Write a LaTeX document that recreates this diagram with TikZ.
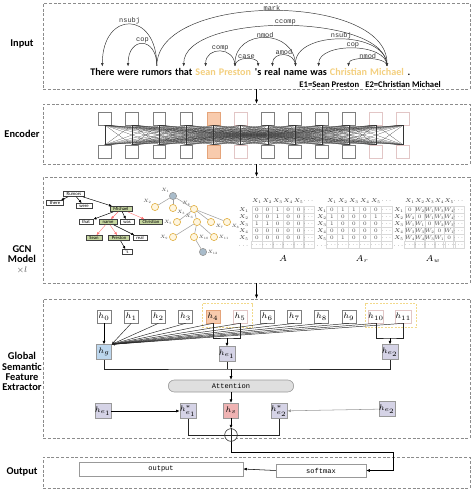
\documentclass[tikz,border=0pt]{standalone}
\usepackage{fix-cm}
\usepackage{amsmath,amssymb}
\usepackage{fontspec}
\usepackage{tikz}
\usepackage{xcolor}
\usetikzlibrary{positioning,arrows.meta,calc}

\newfontfamily\labfont{Carlito}
\newfontfamily\codefont{Liberation Mono}

\definecolor{entity}{HTML}{F3CF7E}
\definecolor{panelgray}{HTML}{8C8C8C}
\definecolor{encorange}{HTML}{F8CBAD}
\definecolor{encedge}{HTML}{E5A47A}
\definecolor{fadepink}{HTML}{E2C6C6}
\definecolor{boxgray}{HTML}{7F7F7F}
\definecolor{treegreen}{HTML}{C6D6A0}
\definecolor{gcngold}{HTML}{E2B44C}
\definecolor{gcnfill}{HTML}{FFF6E0}
\definecolor{gcnblue}{HTML}{A9BCCB}
\definecolor{hgblue}{HTML}{BDD7EE}
\definecolor{entlav}{HTML}{D5D3E6}
\definecolor{hsred}{HTML}{EFB3B3}
\definecolor{spanyellow}{HTML}{F2D98A}
\definecolor{gridgray}{HTML}{D9D9D9}

\tikzset{
  panel/.style={draw=panelgray, dash pattern=on 2.2pt off 1.4pt, line width=0.6pt, inner sep=0pt},
  panelarrow/.style={-{Latex[length=3pt,width=2.4pt]}, line width=0.4pt},
  sidelabel/.style={font=\labfont\bfseries\fontsize{7.8}{7.6}\selectfont, align=center, inner sep=0pt},
  word/.style={inner sep=0pt, font=\labfont\bfseries\fontsize{7.6}{9}\selectfont, text height=6pt, text depth=1.6pt},
  entity/.style={text=entity},
  eline/.style={inner sep=0pt, font=\labfont\bfseries\fontsize{6.5}{7}\selectfont},
  deparc/.style={-{Latex[length=2.6pt,width=2pt]}, line width=0.35pt, draw=black!80, shorten <=1pt, shorten >=0.5pt},
  deplabel/.style={pos=0.5, above, inner sep=0.4pt, font=\codefont\fontsize{5.2}{6}\selectfont, text=black!80},
  encbox/.style={minimum size=9.6pt, inner sep=0pt, line width=0.45pt},
  encline/.style={line width=0.12pt, draw=black!80},
  treebox/.style={draw=black!75, line width=0.3pt, inner xsep=2.5pt, inner ysep=0.3pt, minimum height=4pt, font=\labfont\fontsize{3.5}{3.6}\selectfont},
  treeent/.style={treebox, fill=treegreen},
  treearrow/.style={-{Latex[length=2.3pt,width=2pt]}, line width=0.35pt},
  treered/.style={treearrow, draw=red!55, line width=0.3pt},
  gnode/.style={circle, draw=gcngold, fill=gcnfill, line width=0.5pt, minimum size=5.4pt, inner sep=0pt},
  gend/.style={gnode, draw=gray!80, fill=gcnblue},
  gedge/.style={draw=gray!75, line width=0.4pt},
  glab/.style={font=\fontsize{3.5}{4}\selectfont, inner sep=0.4pt, text=black!75},
  mathead/.style={font=\fontsize{4.2}{4.5}\selectfont, inner sep=0pt, text=black!80},
  cell/.style={draw=gridgray, line width=0.25pt, minimum height=5.25pt, inner sep=0pt, font=\fontsize{4}{4.5}\selectfont, text=black!75},
  matname/.style={font=\fontsize{6.5}{7}\selectfont, inner sep=0pt},
  hbox/.style={draw, line width=0.45pt, minimum width=10.5pt, minimum height=9.8pt, inner sep=0pt, font=\fontsize{6}{7}\selectfont},
  entbox/.style={hbox, fill=entlav, draw=gray!80, minimum width=11pt, minimum height=11pt},
  spanbox/.style={draw=spanyellow, dash pattern=on 1.5pt off 1pt, line width=0.5pt},
  harrow/.style={-{Latex[length=2.6pt,width=2.2pt]}, line width=0.4pt},
  hline/.style={line width=0.35pt, draw=black!85},
  codebox/.style={draw=gray!80, line width=0.45pt, inner sep=0pt, font=\codefont\fontsize{5.3}{6}\selectfont},
}

\begin{document}
\begin{tikzpicture}[x=0.75pt,y=-0.75pt]
\useasboundingbox (0,0) rectangle (474,491);

% panels
\node[panel, minimum width=320.25pt, minimum height=64.5pt] (pInput) at (256.5,46) {};
\node[panel, minimum width=320.25pt, minimum height=45pt] (pEnc) at (256.5,134) {};
\node[panel, minimum width=320.25pt, minimum height=79.5pt] (pGcn) at (256.5,230) {};
\node[panel, minimum width=320.25pt, minimum height=104.25pt] (pGsfe) at (256.5,368.5) {};
\node[panel, minimum width=320.25pt, minimum height=23.25pt] (pOut) at (256.5,472.5) {};
\draw[panelarrow] (pInput.south) -- (pEnc.north);
\draw[panelarrow] (pEnc.south) -- (pGcn.north);
\draw[panelarrow] (pGcn.south) -- (pGsfe.north);

% side labels
\node[sidelabel] (lInput) at (22,44) {Input};
\node[sidelabel] (lEnc) at (22,134) {Encoder};
\node[sidelabel] (lGcn) at (22,254) {GCN\\Model};
\node[inner sep=0pt, font=\fontsize{6}{7}\selectfont, text=black!70] (lLayer) at (22,270) {$\times l$};
\node[sidelabel] (lGsfe) at (22,371.5) {Global\\Semantic\\Feature\\Extractor};
\node[sidelabel] (lOut) at (22,472) {Output};

% input sentence
\node[word, anchor=base west] (wThere) at (90,75.5) {There};
\node[word, right=1.9pt of wThere] (wWere) {were};
\node[word, right=1.9pt of wWere] (wRumors) {rumors};
\node[word, right=1.9pt of wRumors] (wThat) {that};
\node[word, entity, right=1.9pt of wThat] (wSean) {Sean};
\node[word, entity, right=1.9pt of wSean] (wPreston) {Preston};
\node[word, right=2.5pt of wPreston] (wPoss) {'s};
\node[word, right=1.9pt of wPoss] (wReal) {real};
\node[word, right=1.9pt of wReal] (wName) {name};
\node[word, right=1.9pt of wName] (wWas) {was};
\node[word, entity, right=1.9pt of wWas] (wChristian) {Christian};
\node[word, entity, right=1.9pt of wChristian] (wMichael) {Michael};
\node[word, right=2.5pt of wMichael] (wDot) {.};
\node[eline, anchor=east] (eLine) at (441,84) {E1=Sean Preston\hspace{0.7em}E2=Christian Michael};

% dependency arcs
\draw[deparc] (wRumors.north) .. controls +(0,-57) and +(0,-57) .. (wThere.north) node[deplabel] {nsubj};
\draw[deparc] (wRumors.north) .. controls +(0,-31) and +(0,-31) .. (wWere.north) node[deplabel] {cop};
\draw[deparc] (wRumors.north) .. controls +(0,-75) and +(0,-75) .. (wMichael.north) node[deplabel] {mark};
\draw[deparc] (wMichael.north) .. controls +(0,-55) and +(0,-55) .. (wThat.north) node[deplabel] {ccomp};
\draw[deparc] (wPreston.north) .. controls +(0,-21) and +(0,-21) .. (wSean.north) node[deplabel] {comp};
\draw[deparc] (wPreston.north) .. controls +(0,-11) and +(0,-11) .. (wPoss.north) node[deplabel] {case};
\draw[deparc] (wName.north) .. controls +(0,-39) and +(0,-39) .. (wPreston.north) node[deplabel] {nmod};
\draw[deparc] (wName.north) .. controls +(0,-16) and +(0,-16) .. (wReal.north) node[deplabel] {amod};
\draw[deparc] (wMichael.north) .. controls +(0,-37) and +(0,-37) .. (wName.north) node[deplabel] {nsubj};
\draw[deparc] (wMichael.north) .. controls +(0,-25) and +(0,-25) .. (wWas.north) node[deplabel] {cop};
\draw[deparc] (wMichael.north) .. controls +(0,-11) and +(0,-11) .. (wChristian.north) node[deplabel] {nmod};

% encoder
\foreach \i/\fc/\dc in {0/white/boxgray,1/white/boxgray,2/white/boxgray,3/white/boxgray,4/encorange/encedge,5/white/fadepink,6/white/boxgray,7/white/boxgray,8/white/boxgray,9/white/boxgray,10/white/fadepink,11/white/fadepink} {
  \node[encbox, fill=\fc, draw=\dc] (t\i) at ({105+27.1*\i},118.5) {};
  \node[encbox, fill=\fc, draw=\dc] (b\i) at ({105+27.1*\i},151.5) {};
}
\foreach \i in {0,...,11}
  \foreach \j in {0,...,11}
    \draw[encline] (b\i.north) -- (t\j.south);

% dependency tree
\node[treebox] (tRumors) at (74,194) {Rumors};
\node[treebox] (tThere) at (55,203) {there};
\node[treebox] (tWere) at (84,206) {were};
\node[treeent] (tMichael) at (121,209) {Michael};
\node[treebox] (tThat) at (86,222) {that};
\node[treeent] (tName) at (108,222) {name};
\node[treebox] (tWas) at (127,222) {was};
\node[treeent] (tChristian) at (151,222) {Christian};
\node[treeent] (tSean) at (94,238) {Sean};
\node[treeent] (tPreston) at (119,238) {Preston};
\node[treebox] (tReal) at (140,238) {real};
\node[treebox] (tPoss) at (127,252) {'s};
\draw[treearrow] (tRumors) -- (tThere);
\draw[treearrow] (tRumors) -- (tWere);
\draw[treearrow] (tRumors) -- (tMichael);
\draw[treearrow] (tMichael) -- (tThat);
\draw[treered] (tMichael) -- (tName);
\draw[treearrow] (tMichael) -- (tWas);
\draw[treered] (tMichael) -- (tChristian);
\draw[treered] (tName) -- (tSean);
\draw[treered] (tName) -- (tPreston);
\draw[treearrow] (tName) -- (tReal);
\draw[treearrow] (tPreston) -- (tPoss);

% graph
\node[gend, label={[glab]135:$X_1$}] (g1) at (173,196) {};
\node[gnode, label={[glab]135:$X_2$}] (g2) at (155,207) {};
\node[gnode, label={[glab]-30:$X_3$}] (g3) at (173,208) {};
\node[gnode, label={[glab]135:$X_4$}] (g4) at (194,209) {};
\node[gnode, label={[glab]180:$X_5$}] (g5) at (177,222) {};
\node[gnode, label={[glab]135:$X_6$}] (g6) at (197,222) {};
\node[gnode, label={[glab]-20:$X_7$}] (g7) at (211,222) {};
\node[gnode, label={[glab]-20:$X_8$}] (g8) at (227,222) {};
\node[gnode, label={[glab]180:$X_9$}] (g9) at (173,237) {};
\node[gnode, label={[glab]0:$X_{10}$}] (g10) at (194,237) {};
\node[gnode, label={[glab]0:$X_{11}$}] (g11) at (214,237) {};
\node[gend, label={[glab]0:$X_{12}$}] (g12) at (203,252) {};
\foreach \a/\b in {g1/g2,g1/g3,g1/g4,g4/g5,g4/g6,g4/g7,g4/g8,g6/g9,g6/g10,g6/g11,g10/g12}
  \draw[gedge] (\a) -- (\b);

% matrix A
\foreach \k in {1,...,5} {
  \node[mathead] (aC\k) at ({257+10.4*(\k-1)},201) {$X_{\k}$};
  \node[mathead] (aR\k) at (244,{203+7*\k}) {$X_{\k}$};
}
\node[mathead] (aC6) at (309,201) {$\cdots$};
\node[mathead] (aR6) at (244,246) {$\cdots$};
\foreach \y/\row [count=\r] in {210/{0,0,1,0,0,\cdots}, 217/{0,0,1,0,0,\cdots}, 224/{1,1,0,0,0,\cdots}, 231/{0,0,0,0,0,\cdots}, 238/{0,0,0,0,0,\cdots}, 245/{\cdots,\cdots,\cdots,\cdots,\cdots,\cdots}}
  \foreach \v [count=\k] in \row
    \node[cell, minimum width=7.8pt] (a\r-\k) at ({257+10.4*(\k-1)},\y) {$\v$};
\node[matname] (mA) at (283,259) {$A$};

% matrix A_r
\foreach \k in {1,...,5} {
  \node[mathead] (rC\k) at ({332+11*(\k-1)},201) {$X_{\k}$};
  \node[mathead] (rR\k) at (322,{203+7*\k}) {$X_{\k}$};
}
\node[mathead] (rC6) at (387,201) {$\cdots$};
\node[mathead] (rR6) at (322,246) {$\cdots$};
\foreach \y/\row [count=\r] in {210/{0,1,1,0,0,\cdots}, 217/{1,0,0,0,1,\cdots}, 224/{1,0,0,0,0,\cdots}, 231/{0,0,0,0,0,\cdots}, 238/{0,1,0,0,0,\cdots}, 245/{\cdots,\cdots,\cdots,\cdots,\cdots,\cdots}}
  \foreach \v [count=\k] in \row
    \node[cell, minimum width=8.25pt] (r\r-\k) at ({332+11*(\k-1)},\y) {$\v$};
\node[matname] (mAr) at (362,259) {$A_r$};

% matrix A_w
\foreach \k in {1,...,5} {
  \node[mathead] (wC\k) at ({410+9.8*(\k-1)},201) {$X_{\k}$};
  \node[mathead] (wR\k) at (399,{203+7*\k}) {$X_{\k}$};
}
\node[mathead] (wC6) at (459,201) {$\cdots$};
\node[mathead] (wR6) at (399,246) {$\cdots$};
\foreach \y/\row [count=\r] in {210/{0,W_2,W_1,W_3,W_4,\cdots}, 217/{W_2,0,W_1,W_3,W_4,\cdots}, 224/{W_1,W_1,0,W_2,W_3,\cdots}, 231/{W_3,W_3,W_2,0,W_1,\cdots}, 238/{W_4,W_4,W_3,W_1,0,\cdots}, 245/{\cdots,\cdots,\cdots,\cdots,\cdots,\cdots}}
  \foreach \v [count=\k] in \row
    \node[cell, minimum width=7.35pt] (w\r-\k) at ({410+9.8*(\k-1)},\y) {$\v$};
\node[matname] (mAw) at (433,259) {$A_w$};

% global semantic feature extractor
\foreach \i/\fc/\dc in {0/white/boxgray,1/white/boxgray,2/white/boxgray,3/white/boxgray,4/encorange/encedge,5/white/fadepink,6/white/boxgray,7/white/boxgray,8/white/boxgray,9/white/boxgray,10/white/fadepink,11/white/fadepink}
  \node[hbox, fill=\fc, draw=\dc] (h\i) at ({104+27.2*\i},316.5) {$h_{\i}$};
\draw[spanbox] ($(h4.north west)+(-3,-6)$) rectangle ($(h5.south east)+(5,4)$);
\draw[spanbox] ($(h10.north west)+(-3,-6)$) rectangle ($(h11.south east)+(5,4)$);
\node[hbox, fill=hgblue, draw=gray!80, minimum width=11pt, minimum height=11pt] (hg) at (104,352) {$h_g$};
\node[entbox] (he1) at (227,354) {$h_{e_1}$};
\node[entbox] (he2) at (390,352) {$h_{e_2}$};
\node[codebox, fill=gray!25, rounded corners=4.5pt, minimum width=94pt, minimum height=9pt] (att) at (231,386) {Attention};
\node[entbox] (he1l) at (103,411) {$h_{e_1}$};
\node[entbox] (he1s) at (188,411) {$h_{e_1}^{*}$};
\node[entbox, fill=hsred] (hs) at (231,410.5) {$h_s$};
\node[entbox] (he2s) at (279,411) {$h_{e_2}^{*}$};
\node[entbox] (he2r) at (387,409) {$h_{e_2}$};
\node[circle, draw=black!80, fill=white, line width=0.45pt, minimum size=9.5pt, inner sep=0pt] (plus) at (231,435) {};
\draw[hline] (plus.north) -- (plus.south) (plus.west) -- (plus.east);

\draw[harrow] (h0.south) -- (hg.north);
\foreach \i in {1,...,11}
  \draw[hline, -{Latex[length=2.2pt,width=1.8pt]}] (h\i.south) -- (hg.north east);
\coordinate (sp1) at (227,338);
\coordinate (sp2) at (390,338);
\draw[hline] (h4.south) |- (sp1) -| (h5.south);
\draw[hline] (h10.south) |- (sp2) -| (h11.south);
\draw[harrow] (sp1) -- (he1.north);
\draw[harrow] (sp2) -- (he2.north);
\coordinate (jn) at (231,369);
\draw[hline] (hg.south) |- (jn) -| (he2.south);
\draw[hline] (he1.south) -- (he1.south |- jn);
\draw[harrow] (jn) -- (att.north);
\draw[harrow] (att) -- (hs);
\draw[harrow] (he1l) -- (he1s);
\draw[harrow, draw=gray!80] (he2r) -- (he2s);
\draw[harrow] (hs) -- (plus);
\draw[hline] (he1s.south) |- (plus.west);
\draw[hline] (he2s.south) |- (plus.east);

% output
\node[codebox, minimum width=123pt, minimum height=10.5pt] (outbox) at (161,469) {output};
\node[codebox, minimum width=67.5pt, minimum height=9.75pt] (soft) at (321,470.5) {softmax};
\coordinate (turn) at (393,452);
\draw[harrow] (plus.south) |- (turn) |- (soft.east);
\draw[harrow] (soft.west) -- (outbox.east);
\end{tikzpicture}
\end{document}
